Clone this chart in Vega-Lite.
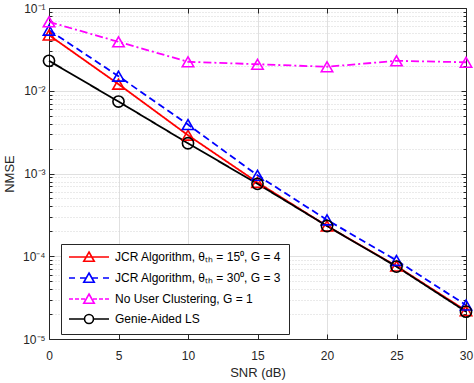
{
  "$schema": "https://vega.github.io/schema/vega-lite/v6.json",
  "width": 417,
  "height": 331,
  "autosize": "none",
  "padding": {"left": 49, "top": 8, "right": 8, "bottom": 44},
  "background": "white",
  "config": {
    "view": {"stroke": null},
    "font": "Liberation Sans",
    "axis": {
      "domainColor": "#262626",
      "tickColor": "#262626",
      "labelColor": "#262626",
      "titleColor": "#262626",
      "labelFont": "Liberation Sans",
      "titleFont": "Liberation Sans",
      "labelFontSize": 12,
      "titleFontSize": 13,
      "titleFontWeight": "normal",
      "domainWidth": 1,
      "tickWidth": 1,
      "zindex": 0
    },
    "legend": {
      "orient": "none", "legendX": 12, "legendY": 236,
      "padding": 7, "strokeColor": "#262626", "fillColor": "white",
      "symbolSize": 100, "symbolStrokeWidth": 1.6, "symbolOffset": 15, "labelOffset": 20,
      "symbolOpacity": 1,
      "labelFont": "Liberation Sans", "labelFontSize": 12, "labelColor": "#000000",
      "labelLimit": 400, "rowPadding": 4
    }
  },
  "data": {
    "values": [
      {"s": "JCR Algorithm, θₜₕ = 15⁰, G = 4", "x": 0, "y": 0.047},
      {"s": "JCR Algorithm, θₜₕ = 15⁰, G = 4", "x": 5, "y": 0.012},
      {"s": "JCR Algorithm, θₜₕ = 15⁰, G = 4", "x": 10, "y": 0.0029},
      {"s": "JCR Algorithm, θₜₕ = 15⁰, G = 4", "x": 15, "y": 0.00078},
      {"s": "JCR Algorithm, θₜₕ = 15⁰, G = 4", "x": 20, "y": 0.000232},
      {"s": "JCR Algorithm, θₜₕ = 15⁰, G = 4", "x": 25, "y": 0.000076},
      {"s": "JCR Algorithm, θₜₕ = 15⁰, G = 4", "x": 30, "y": 0.000022},
      {"s": "JCR Algorithm, θₜₕ = 30⁰, G = 3", "x": 0, "y": 0.054},
      {"s": "JCR Algorithm, θₜₕ = 30⁰, G = 3", "x": 5, "y": 0.015},
      {"s": "JCR Algorithm, θₜₕ = 30⁰, G = 3", "x": 10, "y": 0.0039},
      {"s": "JCR Algorithm, θₜₕ = 30⁰, G = 3", "x": 15, "y": 0.00095},
      {"s": "JCR Algorithm, θₜₕ = 30⁰, G = 3", "x": 20, "y": 0.000275},
      {"s": "JCR Algorithm, θₜₕ = 30⁰, G = 3", "x": 25, "y": 0.000089},
      {"s": "JCR Algorithm, θₜₕ = 30⁰, G = 3", "x": 30, "y": 0.0000257},
      {"s": "No User Clustering, G = 1", "x": 0, "y": 0.068},
      {"s": "No User Clustering, G = 1", "x": 5, "y": 0.039},
      {"s": "No User Clustering, G = 1", "x": 10, "y": 0.0224},
      {"s": "No User Clustering, G = 1", "x": 15, "y": 0.0209},
      {"s": "No User Clustering, G = 1", "x": 20, "y": 0.0195},
      {"s": "No User Clustering, G = 1", "x": 25, "y": 0.023},
      {"s": "No User Clustering, G = 1", "x": 30, "y": 0.0221},
      {"s": "Genie-Aided LS", "x": 0, "y": 0.023},
      {"s": "Genie-Aided LS", "x": 5, "y": 0.0074},
      {"s": "Genie-Aided LS", "x": 10, "y": 0.00232},
      {"s": "Genie-Aided LS", "x": 15, "y": 0.00075},
      {"s": "Genie-Aided LS", "x": 20, "y": 0.000232},
      {"s": "Genie-Aided LS", "x": 25, "y": 0.000075},
      {"s": "Genie-Aided LS", "x": 30, "y": 0.0000214}
    ]
  },
  "resolve": {"axis": {"x": "independent", "y": "independent"}},
  "layer": [
    {
      "transform": [{"filter": "false"}],
      "mark": {"type": "point", "filled": false, "strokeWidth": 1.6, "opacity": 1},
      "encoding": {
        "color": {
          "field": "s", "type": "nominal",
          "scale": {"domain": ["JCR Algorithm, θₜₕ = 15⁰, G = 4", "JCR Algorithm, θₜₕ = 30⁰, G = 3", "No User Clustering, G = 1", "Genie-Aided LS"],
                    "range": ["#ff0000", "#0000ff", "#ff00ff", "#000000"]},
          "legend": {"title": null}
        },
        "shape": {
          "field": "s", "type": "nominal",
          "scale": {"domain": ["JCR Algorithm, θₜₕ = 15⁰, G = 4", "JCR Algorithm, θₜₕ = 30⁰, G = 3", "No User Clustering, G = 1", "Genie-Aided LS"],
                    "range": [
                      "M-4,0L4,0M0,-1L1.05,0.85L-1.05,0.85Z",
                      "M-4,0L-2.8,0M-1.8,0L-0.6,0M0.6,0L1.8,0M2.8,0L4,0M0,-1L1.05,0.85L-1.05,0.85Z",
                      "M-4,0L-3.2,0M-2.8,0L-2,0M-1.6,0L-0.8,0M0.8,0L1.6,0M2,0L2.8,0M3.2,0L4,0M0,-1L1.05,0.85L-1.05,0.85Z",
                      "M-4,0L-0.9,0M0.9,0L4,0M0.9,0A0.9,0.9,0,1,1,-0.9,0A0.9,0.9,0,1,1,0.9,0Z"
                    ]},
          "legend": {"title": null}
        }
      }
    },
    {
      "mark": {"type": "line", "strokeWidth": 1.8},
      "encoding": {
        "x": {
          "field": "x", "type": "quantitative",
          "scale": {"domain": [0, 30], "nice": false, "zero": false},
          "axis": {"orient": "bottom", "title": "SNR (dB)", "values": [0, 5, 10, 15, 20, 25, 30],
                   "grid": true, "gridColor": "#e0e0e0", "tickSize": -5, "labelPadding": 16,
                   "titlePadding": 5, "labelFlush": false}
        },
        "y": {
          "field": "y", "type": "quantitative",
          "scale": {"type": "log", "domain": [0.00001, 0.1], "nice": false},
          "axis": {"orient": "left", "title": "NMSE", "values": [0.00001, 0.0001, 0.001, 0.01, 0.1],
                   "grid": true, "gridColor": "#e0e0e0", "tickSize": -5, "labelPadding": 9,
                   "titlePadding": 6, "labelFlush": false,
                   "labelExpr": "'10' + ['⁻⁵','⁻⁴','⁻³','⁻²','⁻¹'][round(log(datum.value)/LN10) + 5]"}
        },
        "stroke": {
          "field": "s", "type": "nominal",
          "scale": {"domain": ["Genie-Aided LS", "No User Clustering, G = 1", "JCR Algorithm, θₜₕ = 30⁰, G = 3", "JCR Algorithm, θₜₕ = 15⁰, G = 4"],
                    "range": ["#000000", "#ff00ff", "#0000ff", "#ff0000"]},
          "legend": null
        },
        "strokeDash": {
          "field": "s", "type": "nominal",
          "scale": {"domain": ["No User Clustering, G = 1", "Genie-Aided LS", "JCR Algorithm, θₜₕ = 30⁰, G = 3", "JCR Algorithm, θₜₕ = 15⁰, G = 4"],
                    "range": [[8, 3, 2, 3], [1, 0], [7, 4], [1, 0]]},
          "legend": null
        }
      }
    },
    {
      "transform": [{"filter": "datum.s !== 'Genie-Aided LS'"}],
      "mark": {"type": "point", "filled": false, "strokeWidth": 1.6, "size": 130, "opacity": 1, "shape": "triangle-up"},
      "encoding": {
        "x": {
          "field": "x", "type": "quantitative",
          "axis": {"orient": "top", "title": null, "values": [0, 5, 10, 15, 20, 25, 30], "labels": false,
                   "grid": false, "tickSize": -5}
        },
        "y": {
          "field": "y", "type": "quantitative",
          "axis": {"orient": "left", "title": null, "labels": false, "domain": false,
                   "values": [0.00002, 0.00003, 0.00004, 0.00005, 0.00006, 0.00007, 0.00008, 0.00009,
                              0.0002, 0.0003, 0.0004, 0.0005, 0.0006, 0.0007, 0.0008, 0.0009,
                              0.002, 0.003, 0.004, 0.005, 0.006, 0.007, 0.008, 0.009,
                              0.02, 0.03, 0.04, 0.05, 0.06, 0.07, 0.08, 0.09],
                   "grid": true, "gridColor": "#d4d4d4", "gridDash": [1, 2], "tickSize": -3}
        },
        "stroke": {"field": "s", "type": "nominal", "legend": null}
      }
    },
    {
      "transform": [{"filter": "datum.s === 'Genie-Aided LS'"}],
      "mark": {"type": "point", "filled": false, "strokeWidth": 1.6, "size": 125, "opacity": 1, "shape": "circle"},
      "encoding": {
        "x": {"field": "x", "type": "quantitative", "axis": null},
        "y": {"field": "y", "type": "quantitative", "axis": null},
        "stroke": {"field": "s", "type": "nominal", "legend": null}
      }
    },
    {
      "mark": {"type": "point", "opacity": 0},
      "encoding": {
        "x": {"field": "x", "type": "quantitative", "axis": null},
        "y": {
          "field": "y", "type": "quantitative",
          "axis": {"orient": "right", "title": null, "labels": false, "grid": false,
                   "values": [0.00001, 0.0001, 0.001, 0.01, 0.1], "tickSize": -5}
        }
      }
    },
    {
      "mark": {"type": "point", "opacity": 0},
      "encoding": {
        "x": {"field": "x", "type": "quantitative", "axis": null},
        "y": {
          "field": "y", "type": "quantitative",
          "axis": {"orient": "right", "title": null, "labels": false, "grid": false, "domain": false,
                   "values": [0.00002, 0.00003, 0.00004, 0.00005, 0.00006, 0.00007, 0.00008, 0.00009,
                              0.0002, 0.0003, 0.0004, 0.0005, 0.0006, 0.0007, 0.0008, 0.0009,
                              0.002, 0.003, 0.004, 0.005, 0.006, 0.007, 0.008, 0.009,
                              0.02, 0.03, 0.04, 0.05, 0.06, 0.07, 0.08, 0.09],
                   "tickSize": -3}
        }
      }
    }
  ]
}
